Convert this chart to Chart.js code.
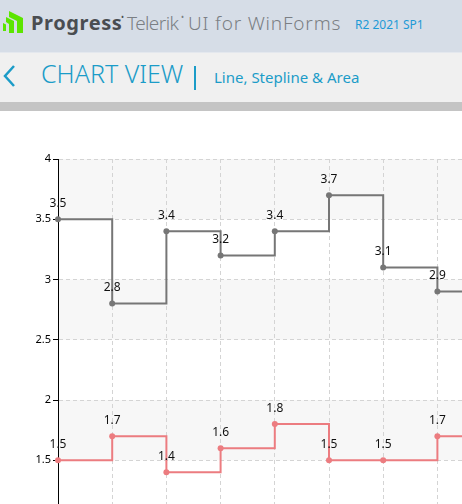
<!DOCTYPE html>
<html>
<head>
<meta charset="utf-8">
<script src="https://cdn.jsdelivr.net/npm/chart.js@4/dist/chart.umd.min.js"></script>
<style>
  html, body { margin:0; padding:0; width:462px; height:504px; overflow:hidden; background:#fff; font-family:"Noto Sans", "Open Sans", sans-serif; }
  #top { position:absolute; left:0; top:0; width:462px; height:52px; background:#d6dde7; }
  #bar { position:absolute; left:0; top:52px; width:462px; height:50px; background:#f0f0f0; border-top:1px solid #e4e8ee; box-sizing:border-box; }
  #strip { position:absolute; left:0; top:102px; width:462px; height:9px; background:#c4c4c4; }
  .t { position:absolute; white-space:nowrap; }
  #wrap { position:absolute; left:0; top:111px; width:520px; height:560px; }
</style>
</head>
<body>
<div id="top">
  <svg class="t" style="left:3px;top:11px" width="20" height="22" viewBox="0 0 20 22">
    <polygon points="6,0 20,7 20,22 14,22 14,10 6,6" fill="#5ce500"/>
    <polygon points="3,6 11,10 11,22 6,22 6,13 3,11" fill="#5ce500"/>
    <polygon points="0,12 3,13.5 3,20 0,20" fill="#5ce500"/>
  </svg>
  <div class="t" style="left:31px;top:9px;font-size:20px;font-weight:bold;color:#4a4d51;letter-spacing:0.6px">Progress</div>
  <div class="t" style="left:121px;top:11px;font-size:8px;color:#4a4d51">&#8226;</div>
  <div class="t" style="left:127px;top:10px;font-size:19px;color:#7b7f84;letter-spacing:-0.6px;font-weight:300">Telerik</div>
  <div class="t" style="left:181px;top:11px;font-size:8px;color:#7b7f84">&#8226;</div>
  <div class="t" style="left:188px;top:10px;font-size:19px;color:#7b7f84;letter-spacing:0.8px;font-weight:300">UI for WinForms</div>
  <div class="t" style="left:355px;top:16px;font-size:12px;color:#1e9ad6">R2 2021 SP1</div>
</div>
<div id="bar">
  <svg class="t" style="left:0;top:0" width="30" height="50">
    <polyline points="14,13 5,23 14,33" fill="none" stroke="#1b9cc8" stroke-width="2.5"/>
  </svg>
  <div class="t" style="left:41px;top:3px;font-size:25px;color:#1b9cc8;font-weight:300">CHART VIEW</div>
  <div class="t" style="left:194px;top:13px;width:2px;height:24px;background:#1b9cc8"></div>
  <div class="t" style="left:214px;top:14px;font-size:15px;color:#1b9cc8">Line, Stepline &amp; Area</div>
</div>
<div id="strip"></div>
<div id="wrap"><canvas id="c" width="520" height="560"></canvas></div>
<script>
const categories = ["1","2","3","4","5","6","7","8","9"];
const seriesGray = [3.5, 2.8, 3.4, 3.2, 3.4, 3.7, 3.1, 2.9, 3.3];
const seriesRed  = [1.5, 1.7, 1.4, 1.6, 1.8, 1.5, 1.5, 1.7, 1.6];
const yTicks = [0, 0.5, 1, 1.5, 2, 2.5, 3, 3.5, 4];

const bandBg = {
  id: 'bandBg',
  beforeDraw(chart) {
    const {ctx, chartArea, scales:{y}} = chart;
    ctx.save();
    ctx.fillStyle = '#f7f7f7';
    for (let i = yTicks.length - 1; i > 0; i -= 2) {
      const top = y.getPixelForValue(yTicks[i]);
      const bot = y.getPixelForValue(yTicks[i-1]);
      ctx.fillRect(chartArea.left, top, chartArea.right - chartArea.left, bot - top);
    }
    ctx.restore();
  }
};
const labelPlugin = {
  id: 'vals',
  afterDatasetsDraw(chart) {
    const ctx = chart.ctx;
    ctx.save();
    ctx.font = '12px "Noto Sans", sans-serif';
    ctx.fillStyle = '#111';
    ctx.textAlign = 'center';
    ctx.textBaseline = 'middle';
    chart.data.datasets.forEach((ds, di) => {
      const meta = chart.getDatasetMeta(di);
      meta.data.forEach((pt, i) => {
        ctx.fillText(String(ds.data[i]), pt.x, pt.y - 16);
      });
    });
    ctx.restore();
  }
};

new Chart(document.getElementById('c'), {
  type: 'line',
  data: {
    labels: categories,
    datasets: [
      { data: seriesGray, stepped: true, borderColor: '#767676', backgroundColor: '#767676', borderWidth: 2, pointRadius: 3, pointBorderWidth: 0, pointBackgroundColor: '#767676' },
      { data: seriesRed, stepped: true, borderColor: '#ec7c80', backgroundColor: '#ec7c80', borderWidth: 2, pointRadius: 3, pointBorderWidth: 0, pointBackgroundColor: '#ec7c80' }
    ]
  },
  options: {
    responsive: false,
    animation: false,
    devicePixelRatio: 1,
    layout: { padding: { left: 0, top: 48, right: 28.4, bottom: 30 } },
    plugins: { legend: { display: false }, tooltip: { enabled: false } },
    scales: {
      x: {
        offset: false,
        ticks: { display: false },
        grid: { color: '#d4d4d4', drawTicks: false, lineWidth: 1 },
        border: { display: false, dash: [4, 3] }
      },
      y: {
        min: 0, max: 4,
        afterFit(s) { s.width = 58; },
        ticks: { stepSize: 0.5, color: '#000', padding: 2, font: { family: '"Noto Sans", sans-serif', size: 11 },
                 callback: (v) => String(Math.round(v * 10) / 10) },
        grid: { color: '#d4d4d4', tickColor: '#000', tickLength: 5, tickBorderDash: [], lineWidth: 1 },
        border: { display: true, color: '#000', width: 1, dash: [4, 3] }
      }
    }
  },
  plugins: [bandBg, labelPlugin]
});
</script>
</body>
</html>
